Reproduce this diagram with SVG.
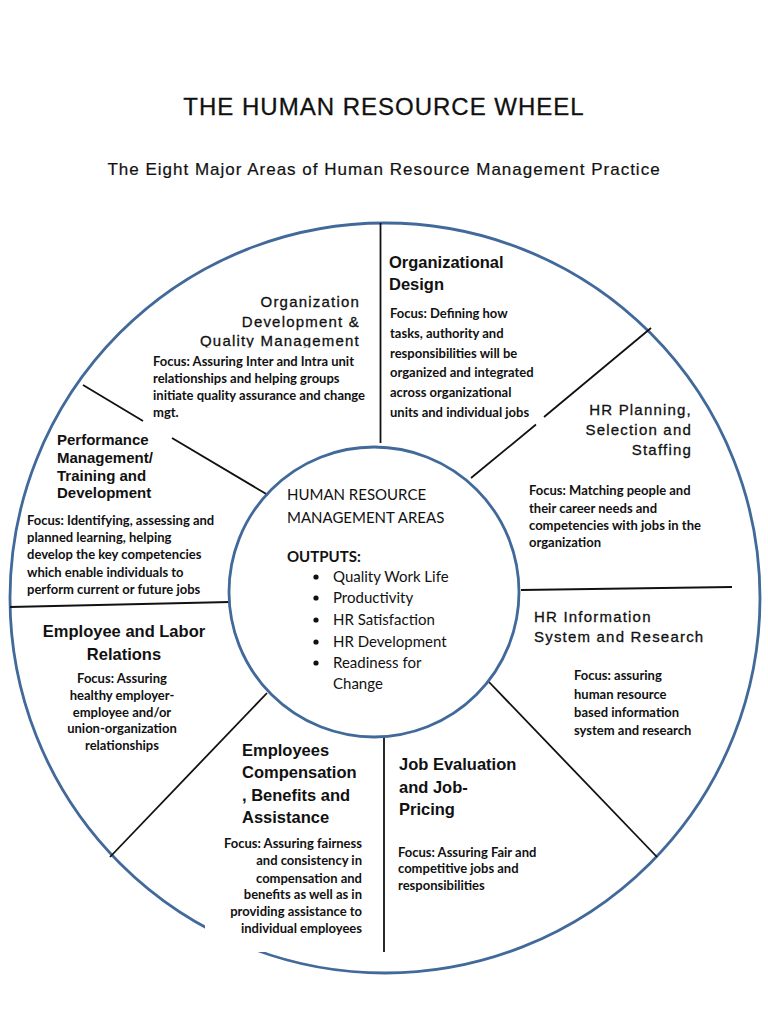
<svg xmlns="http://www.w3.org/2000/svg" width="768" height="1024" viewBox="0 0 768 1024">
<style>
.ring{fill:none;stroke:#41699a;stroke-width:2.8}
.spoke{stroke:#111;stroke-width:1.8;fill:none}
.title{font-family:"Liberation Sans",Arial,sans-serif;font-size:24px;letter-spacing:1px;fill:#111;stroke:#111;stroke-width:0.3}
.sub{font-family:"Liberation Sans",Arial,sans-serif;font-size:17px;letter-spacing:1px;fill:#111;stroke:#111;stroke-width:0.2}
.hr{font-family:"Liberation Sans",Arial,sans-serif;font-size:15px;letter-spacing:1.2px;fill:#111;stroke:#111;stroke-width:0.3}
.hb{font-family:"Liberation Sans",Arial,sans-serif;font-size:16.5px;font-weight:bold;fill:#111}
.hb15{font-family:"Liberation Sans",Arial,sans-serif;font-size:15px;font-weight:bold;fill:#111}
.fc{font-family:Lato,"Noto Sans",sans-serif;font-size:13px;font-weight:bold;fill:#111}
.cn{font-family:Lato,"Noto Sans",sans-serif;font-size:15px;fill:#111}
.cb{font-family:Lato,"Noto Sans",sans-serif;font-size:15px;font-weight:bold;fill:#111}
.mask{fill:#fff}
</style>
<rect width="768" height="1024" fill="#fff"/>
<text class="title" x="384" y="115" text-anchor="middle">THE HUMAN RESOURCE WHEEL</text>
<text class="sub" x="384" y="175" text-anchor="middle">The Eight Major Areas of Human Resource Management Practice</text>

<g id="wheel">
<circle class="ring" cx="385" cy="598" r="375"/>
</g>

<g id="connectors">
<line class="spoke" x1="380.5" y1="223" x2="380.5" y2="443"/>
<line class="spoke" x1="651" y1="328" x2="544" y2="417"/>
<line class="spoke" x1="536" y1="424.5" x2="471" y2="478"/>
<line class="spoke" x1="521" y1="590" x2="732" y2="587"/>
<line class="spoke" x1="489" y1="682" x2="657" y2="857"/>
<line class="spoke" x1="384" y1="737" x2="384" y2="952"/>
<line class="spoke" x1="267" y1="693" x2="110" y2="857"/>
<line class="spoke" x1="10" y1="607" x2="230" y2="602"/>
<line class="spoke" x1="83" y1="385" x2="143" y2="421"/>
<line class="spoke" x1="172" y1="438" x2="268" y2="495"/>
</g>

<g id="center">
<circle class="ring" cx="374" cy="592" r="145" fill="#fff"/>
<text class="cn" x="287" y="500">HUMAN RESOURCE</text>
<text class="cn" x="287" y="523">MANAGEMENT AREAS</text>
<text class="cb" x="287" y="562">OUTPUTS:</text>
<g fill="#111">
<circle cx="316" cy="577" r="2.6"/>
<circle cx="316" cy="598" r="2.6"/>
<circle cx="316" cy="620" r="2.6"/>
<circle cx="316" cy="642" r="2.6"/>
<circle cx="316" cy="663" r="2.6"/>
</g>
<text class="cn" x="333" y="582">Quality Work Life</text>
<text class="cn" x="333" y="603">Productivity</text>
<text class="cn" x="333" y="625">HR Satisfaction</text>
<text class="cn" x="333" y="647">HR Development</text>
<text class="cn" x="333" y="668">Readiness for</text>
<text class="cn" x="333" y="689">Change</text>
</g>

<g id="org-design">
<text class="hb" x="389" y="268">Organizational</text>
<text class="hb" x="389" y="290">Design</text>
<text class="fc" x="390" y="318">Focus: Defining how</text>
<text class="fc" x="390" y="338">tasks, authority and</text>
<text class="fc" x="390" y="358">responsibilities will be</text>
<text class="fc" x="390" y="377">organized and integrated</text>
<text class="fc" x="390" y="397">across organizational</text>
<text class="fc" x="390" y="417">units and individual jobs</text>
</g>

<g id="od-quality">
<text class="hr" x="360" y="307" text-anchor="end">Organization</text>
<text class="hr" x="360" y="327" text-anchor="end">Development &amp;</text>
<text class="hr" x="360" y="346" text-anchor="end">Quality Management</text>
<rect class="mask" x="150" y="347.5" width="222" height="74"/>
<text class="fc" x="153" y="366">Focus: Assuring Inter and Intra unit</text>
<text class="fc" x="153" y="383">relationships and helping groups</text>
<text class="fc" x="153" y="400">initiate quality assurance and change</text>
<text class="fc" x="153" y="417">mgt.</text>
</g>

<g id="hr-planning">
<text class="hr" x="692" y="415" text-anchor="end">HR Planning,</text>
<text class="hr" x="692" y="435" text-anchor="end">Selection and</text>
<text class="hr" x="692" y="455" text-anchor="end">Staffing</text>
<text class="fc" x="529" y="495">Focus: Matching people and</text>
<text class="fc" x="529" y="513">their career needs and</text>
<text class="fc" x="529" y="530">competencies with jobs in the</text>
<text class="fc" x="529" y="547">organization</text>
</g>

<g id="performance">
<text class="hb15" x="57" y="445">Performance</text>
<text class="hb15" x="57" y="463">Management/</text>
<text class="hb15" x="57" y="481">Training and</text>
<text class="hb15" x="57" y="498">Development</text>
<text class="fc" x="27" y="525">Focus: Identifying, assessing and</text>
<text class="fc" x="27" y="542">planned learning, helping</text>
<text class="fc" x="27" y="559">develop the key competencies</text>
<text class="fc" x="27" y="577">which enable individuals to</text>
<text class="fc" x="27" y="594">perform current or future jobs</text>
</g>

<g id="hr-information">
<text class="hr" x="534" y="622">HR Information</text>
<text class="hr" x="534" y="642">System and Research</text>
<text class="fc" x="574" y="680">Focus: assuring</text>
<text class="fc" x="574" y="699">human resource</text>
<text class="fc" x="574" y="717">based information</text>
<text class="fc" x="574" y="735">system and research</text>
</g>

<g id="labor-relations">
<text class="hb" x="124" y="637" text-anchor="middle">Employee and Labor</text>
<text class="hb" x="124" y="660" text-anchor="middle">Relations</text>
<text class="fc" x="122" y="683" text-anchor="middle">Focus: Assuring</text>
<text class="fc" x="122" y="700" text-anchor="middle">healthy employer-</text>
<text class="fc" x="122" y="717" text-anchor="middle">employee and/or</text>
<text class="fc" x="122" y="733" text-anchor="middle">union-organization</text>
<text class="fc" x="122" y="750" text-anchor="middle">relationships</text>
</g>

<g id="compensation">
<text class="hb" x="242" y="756">Employees</text>
<text class="hb" x="242" y="778">Compensation</text>
<text class="hb" x="242" y="801">, Benefits and</text>
<text class="hb" x="242" y="823">Assistance</text>
<rect class="mask" x="205" y="836" width="165" height="116"/>
<text class="fc" x="362" y="848" text-anchor="end">Focus: Assuring fairness</text>
<text class="fc" x="362" y="865" text-anchor="end">and consistency in</text>
<text class="fc" x="362" y="883" text-anchor="end">compensation and</text>
<text class="fc" x="362" y="899" text-anchor="end">benefits as well as in</text>
<text class="fc" x="362" y="916" text-anchor="end">providing assistance to</text>
<text class="fc" x="362" y="933" text-anchor="end">individual employees</text>
</g>

<g id="job-evaluation">
<text class="hb" x="399" y="770">Job Evaluation</text>
<text class="hb" x="399" y="793">and Job-</text>
<text class="hb" x="399" y="815">Pricing</text>
<text class="fc" x="398" y="857">Focus: Assuring Fair and</text>
<text class="fc" x="398" y="873">competitive jobs and</text>
<text class="fc" x="398" y="890">responsibilities</text>
</g>
</svg>
